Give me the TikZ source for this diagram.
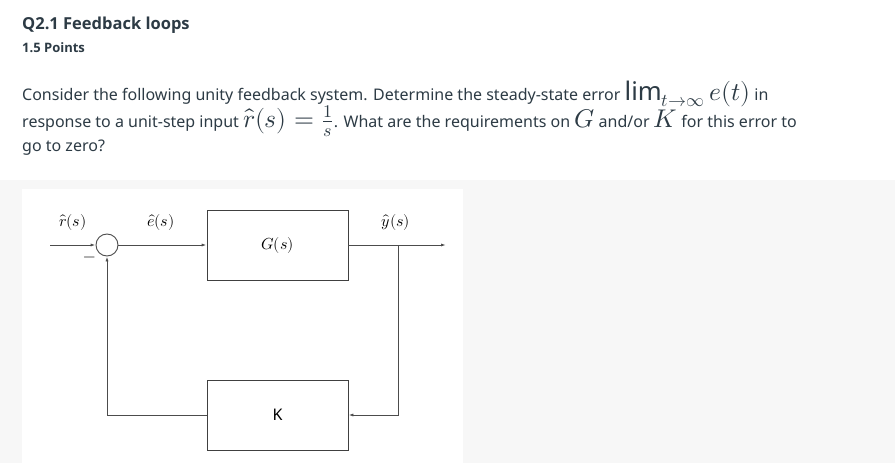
\documentclass[tikz,border=0pt]{standalone}
\usepackage{fontspec}
\usepackage{unicode-math}
\usepackage{graphicx}
\setmainfont{Noto Sans}
\newfontfamily\ttlfont{Open Sans}
\setmathfont{Latin Modern Math}
\usetikzlibrary{arrows.meta}
\newcommand{\mth}[1]{\scalebox{1.6}{$#1$}}
\definecolor{txt}{HTML}{2D3B45}
\definecolor{bg}{HTML}{F7F7F7}
\begin{document}
\begin{tikzpicture}[x=1pt,y=-1pt,
  blk/.style={draw=black!75,line width=0.9pt,minimum width=141pt,minimum height=70pt,inner sep=0pt},
  ln/.style={draw=black!70,line width=0.9pt},
  arr/.style={ln,-{Latex[length=5pt,width=3pt]}},
  para/.style={anchor=west,inner sep=0pt,text=txt,font=\fontsize{16}{20}\selectfont}]
\useasboundingbox (0,0) rectangle (895,463);
\fill[white] (0,0) rectangle (895,463);
\fill[bg] (0,180) rectangle (895,463);
\fill[white] (22,189) rectangle (463,463);
\node[anchor=west,inner sep=0pt,text=txt,font=\ttlfont\fontsize{16.5}{20}\selectfont\bfseries] (title) at (22,25) {Q2.1 Feedback loops};
\node[anchor=west,inner sep=0pt,text=txt,font=\ttlfont\fontsize{13}{16}\selectfont\bfseries] (pts) at (22,48) {1.5 Points};
\node[para] (l1) at (22,94) {Consider the following unity feedback system. Determine the steady-state error \mth{\lim_{t\to\infty} e(t)} in};
\node[para] (l2) at (22,121) {response to a unit-step input \mth{\hat r(s)=\frac{1}{s}}. What are the requirements on \mth{G} and/or \mth{K} for this error to};
\node[para] (l3) at (22,148) {go to zero?};
% diagram
\coordinate (in) at (50,245);
\node[draw=black!70,line width=0.9pt,circle,minimum size=22pt,inner sep=0pt] (sum) at (107,245) {};
\node[blk] (G) at (277.5,245) {\mth{G(s)}};
\node[blk] (K) at (277.5,415) {\mth{\mathrm{K}}};
\coordinate (br) at (398,245);
\coordinate (out) at (446,245);
\draw[arr] (in) -- (sum);
\draw[arr] (sum) -- (G);
\draw[ln] (G) -- (br);
\draw[arr] (br) -- (out);
\draw[arr] (br) |- (K);
\draw[arr] (K) -| (sum);
\node (rl) at (73,222) {\mth{\hat r(s)}};
\node (el) at (161,222) {\mth{\hat e(s)}};
\node (yl) at (396,222) {\mth{\hat y(s)}};
\node (mi) at (90,259) {\mth{-}};
\end{tikzpicture}
\end{document}
